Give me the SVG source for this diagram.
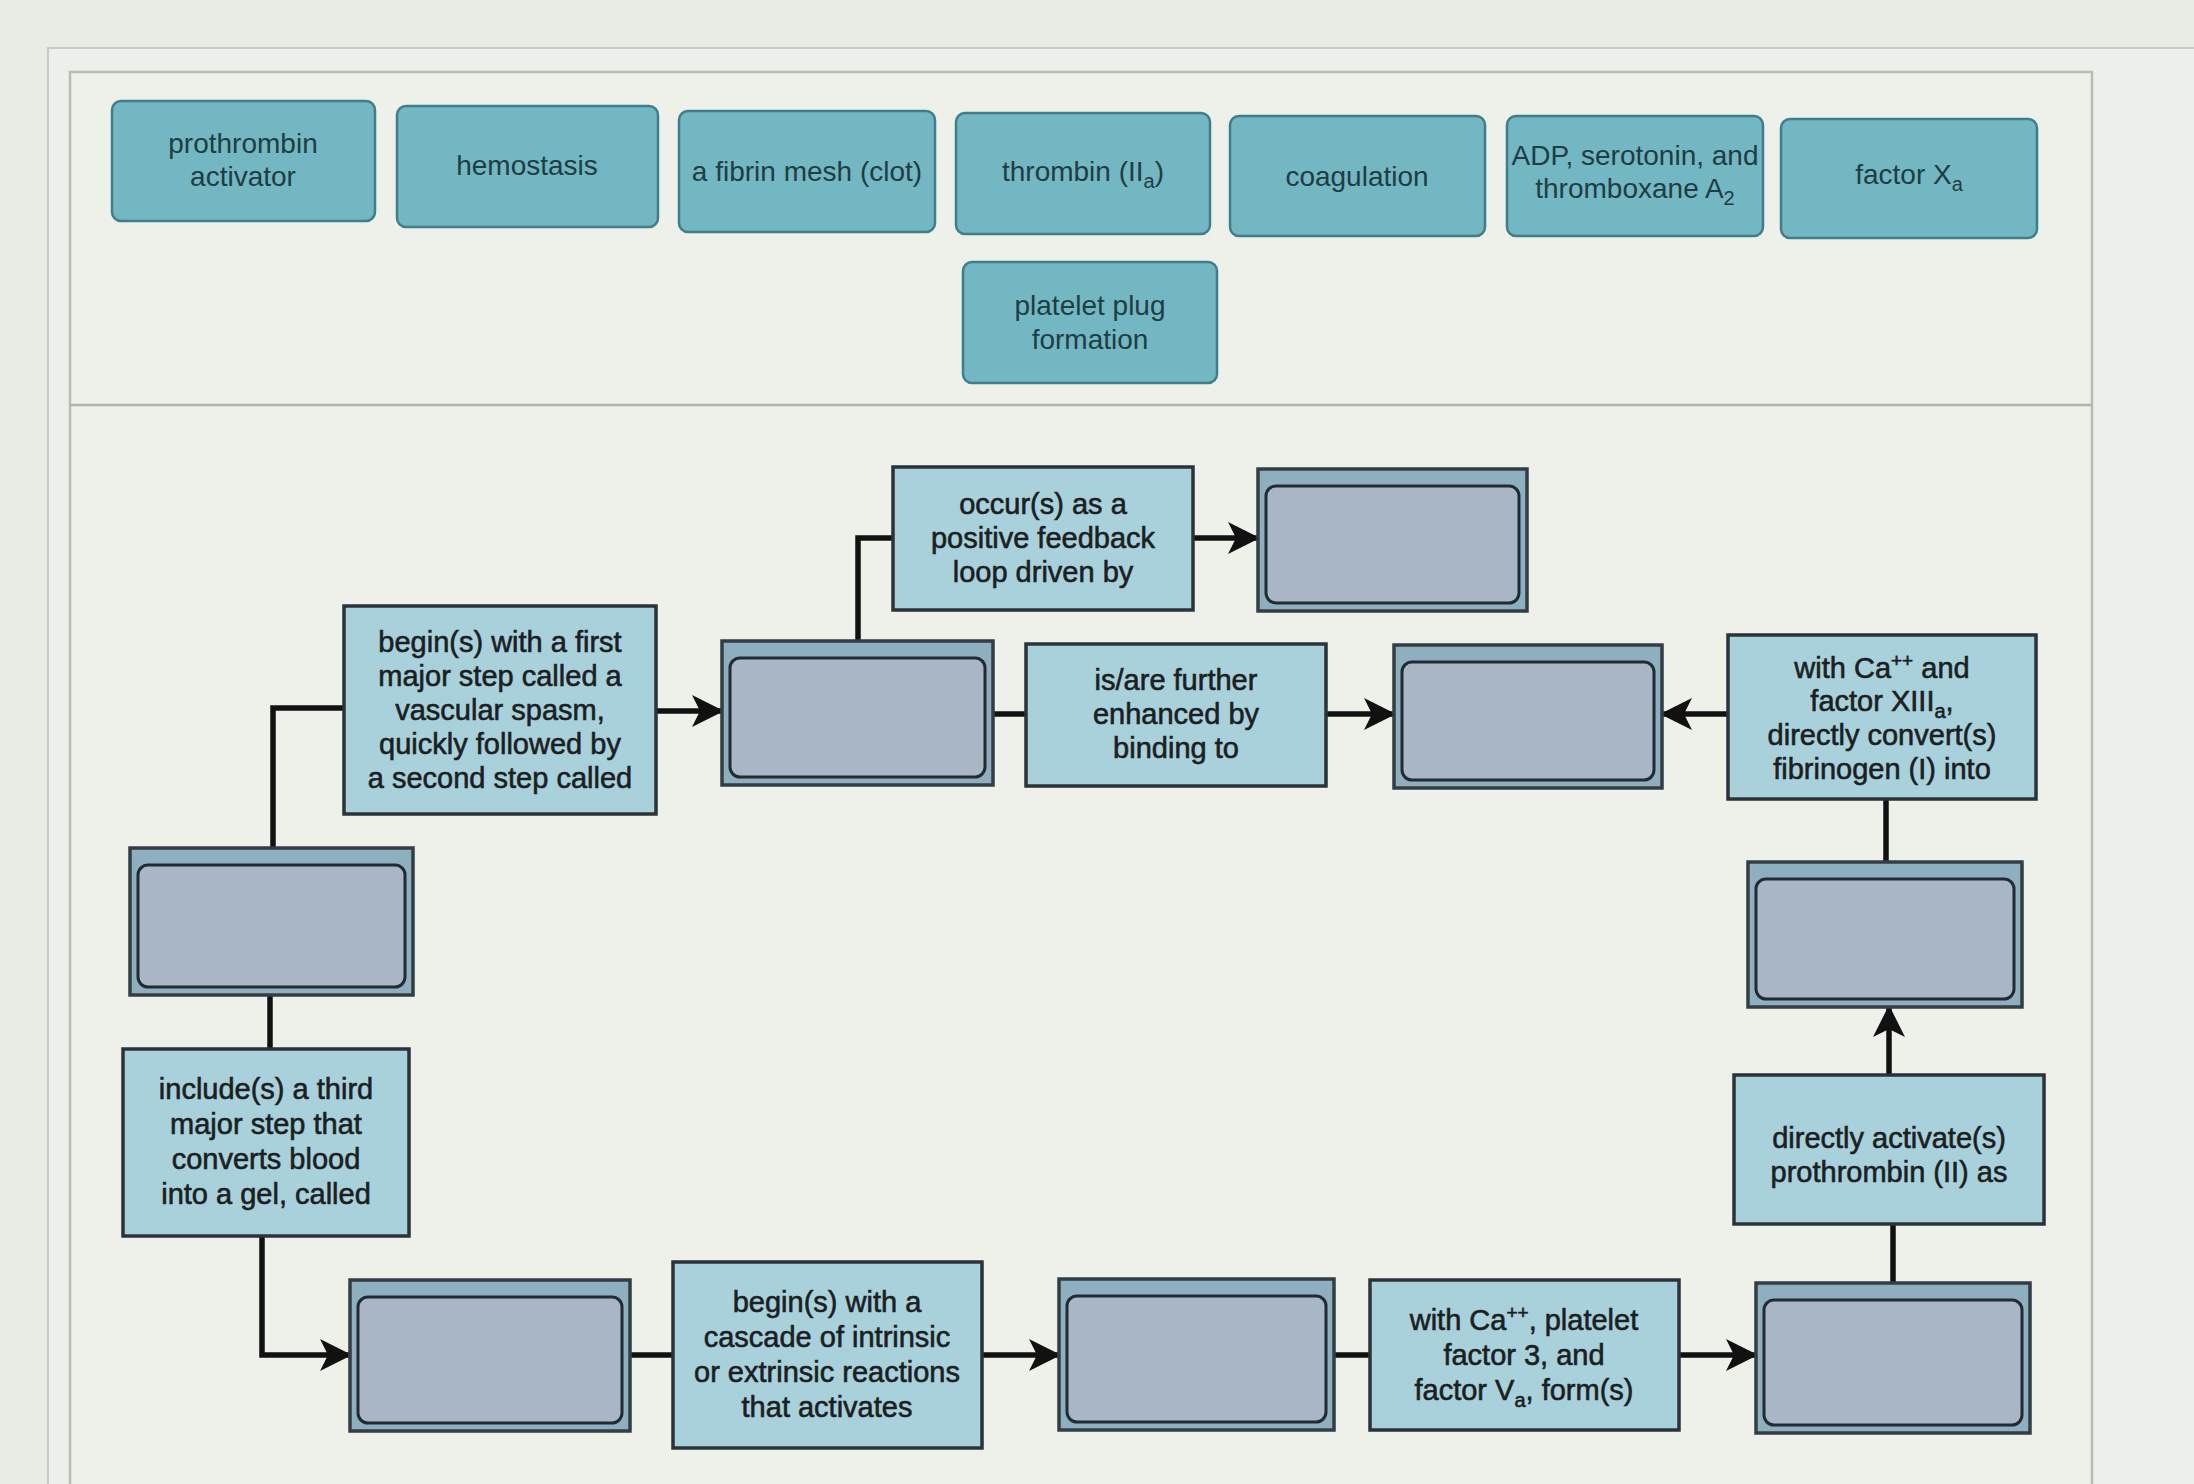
<svg xmlns="http://www.w3.org/2000/svg" width="2194" height="1484" viewBox="0 0 2194 1484">
<defs>
<style>
.tile{fill:#72b7c2;stroke:#3f7e8b;stroke-width:2.5}
.tt{font-family:"Liberation Sans",Arial,sans-serif;font-size:28px;fill:#1f3d44;text-anchor:middle}
.lab{fill:#a9d1dc;stroke:#2b3338;stroke-width:3.5}
.lt{font-family:"Liberation Sans",Arial,sans-serif;font-size:29px;fill:#1b1f22;stroke:#1b1f22;stroke-width:0.6;text-anchor:middle}
.eo{fill:#8eafc0;stroke:#333d44;stroke-width:3.5}
.ei{fill:#a8b6c6;stroke:#222b32;stroke-width:3}
.ln{fill:none;stroke:#111;stroke-width:5.5}
</style>
<marker id="ah" markerUnits="userSpaceOnUse" markerWidth="34" markerHeight="34" refX="30" refY="16" orient="auto">
<path d="M0,0 L32,16 L0,32 L8,16 Z" fill="#111"/>
</marker>
</defs>
<rect x="0" y="0" width="2194" height="1484" fill="#e9ebe5"/>
<rect x="48" y="48" width="2160" height="1460" fill="#edefea" stroke="#c9ccc6" stroke-width="2"/>
<rect x="70" y="72" width="2022" height="1430" fill="#eef0ea" stroke="#b8bcb6" stroke-width="2.5"/>
<line x1="70" y1="405" x2="2092" y2="405" stroke="#b0b4ae" stroke-width="2.5"/>

<g id="tile-prothrombin-activator"><rect class="tile" x="112" y="101" width="263" height="120" rx="9"/><text class="tt" x="243" y="153">prothrombin</text><text class="tt" x="243" y="186">activator</text></g>
<g id="tile-hemostasis"><rect class="tile" x="397" y="106" width="261" height="121" rx="9"/><text class="tt" x="527" y="175">hemostasis</text></g>
<g id="tile-fibrin-mesh"><rect class="tile" x="679" y="111" width="256" height="121" rx="9"/><text class="tt" x="807" y="181">a fibrin mesh (clot)</text></g>
<g id="tile-thrombin"><rect class="tile" x="956" y="113" width="254" height="121" rx="9"/><text class="tt" x="1083" y="181">thrombin (II<tspan font-size="20" dy="7">a</tspan><tspan dy="-7">)</tspan></text></g>
<g id="tile-coagulation"><rect class="tile" x="1230" y="116" width="255" height="120" rx="9"/><text class="tt" x="1357" y="186">coagulation</text></g>
<g id="tile-adp"><rect class="tile" x="1507" y="116" width="256" height="120" rx="9"/><text class="tt" x="1635" y="165">ADP, serotonin, and</text><text class="tt" x="1635" y="198">thromboxane A<tspan font-size="20" dy="7">2</tspan></text></g>
<g id="tile-factor-xa"><rect class="tile" x="1781" y="119" width="256" height="119" rx="9"/><text class="tt" x="1909" y="184">factor X<tspan font-size="20" dy="7">a</tspan></text></g>
<g id="tile-platelet-plug"><rect class="tile" x="963" y="262" width="254" height="121" rx="9"/><text class="tt" x="1090" y="315">platelet plug</text><text class="tt" x="1090" y="349">formation</text></g>

<g id="connectors">
<polyline class="ln" points="273,848 273,708 344,708"/>
<line class="ln" x1="656" y1="711" x2="722" y2="711" marker-end="url(#ah)"/>
<polyline class="ln" points="858,641 858,538 893,538"/>
<line class="ln" x1="1193" y1="538" x2="1258" y2="538" marker-end="url(#ah)"/>
<line class="ln" x1="993" y1="714" x2="1026" y2="714"/>
<line class="ln" x1="1326" y1="714" x2="1394" y2="714" marker-end="url(#ah)"/>
<line class="ln" x1="1728" y1="714" x2="1662" y2="714" marker-end="url(#ah)"/>
<line class="ln" x1="1886" y1="862" x2="1886" y2="799"/>
<line class="ln" x1="1889" y1="1075" x2="1889" y2="1007" marker-end="url(#ah)"/>
<line class="ln" x1="1893" y1="1283" x2="1893" y2="1224"/>
<line class="ln" x1="1679" y1="1355" x2="1756" y2="1355" marker-end="url(#ah)"/>
<line class="ln" x1="1334" y1="1355" x2="1370" y2="1355"/>
<line class="ln" x1="982" y1="1355" x2="1059" y2="1355" marker-end="url(#ah)"/>
<line class="ln" x1="630" y1="1355" x2="673" y2="1355"/>
<polyline class="ln" points="262,1236 262,1355 350,1355" marker-end="url(#ah)"/>
<line class="ln" x1="270" y1="995" x2="270" y2="1049"/>
</g>

<g id="node-occurs"><rect class="lab" x="893" y="467" width="300" height="143"/><text class="lt" x="1043" y="514">occur(s) as a</text><text class="lt" x="1043" y="548">positive feedback</text><text class="lt" x="1043" y="582">loop driven by</text></g>
<g id="blank-1"><rect class="eo" x="1258" y="469" width="269" height="142"/><rect class="ei" x="1266" y="486" width="253" height="117" rx="10"/></g>
<g id="node-begins-first"><rect class="lab" x="344" y="606" width="312" height="208"/><text class="lt" x="500" y="652">begin(s) with a first</text><text class="lt" x="500" y="686">major step called a</text><text class="lt" x="500" y="720">vascular spasm,</text><text class="lt" x="500" y="754">quickly followed by</text><text class="lt" x="500" y="788">a second step called</text></g>
<g id="blank-2"><rect class="eo" x="722" y="641" width="271" height="144"/><rect class="ei" x="730" y="658" width="255" height="119" rx="10"/></g>
<g id="node-enhanced"><rect class="lab" x="1026" y="644" width="300" height="142"/><text class="lt" x="1176" y="690">is/are further</text><text class="lt" x="1176" y="724">enhanced by</text><text class="lt" x="1176" y="758">binding to</text></g>
<g id="blank-3"><rect class="eo" x="1394" y="645" width="268" height="143"/><rect class="ei" x="1402" y="662" width="252" height="118" rx="10"/></g>
<g id="node-xiiia"><rect class="lab" x="1728" y="635" width="308" height="164"/><text class="lt" x="1882" y="678">with Ca<tspan font-size="19" dy="-11">++</tspan><tspan dy="11"> and</tspan></text><text class="lt" x="1882" y="711">factor XIII<tspan font-size="20" dy="7">a</tspan><tspan dy="-7">,</tspan></text><text class="lt" x="1882" y="745">directly convert(s)</text><text class="lt" x="1882" y="779">fibrinogen (I) into</text></g>
<g id="blank-4"><rect class="eo" x="130" y="848" width="283" height="147"/><rect class="ei" x="138" y="865" width="267" height="122" rx="10"/></g>
<g id="blank-5"><rect class="eo" x="1748" y="862" width="274" height="145"/><rect class="ei" x="1756" y="879" width="258" height="120" rx="10"/></g>
<g id="node-include"><rect class="lab" x="123" y="1049" width="286" height="187"/><text class="lt" x="266" y="1099">include(s) a third</text><text class="lt" x="266" y="1134">major step that</text><text class="lt" x="266" y="1169">converts blood</text><text class="lt" x="266" y="1204">into a gel, called</text></g>
<g id="node-activate"><rect class="lab" x="1734" y="1075" width="310" height="149"/><text class="lt" x="1889" y="1148">directly activate(s)</text><text class="lt" x="1889" y="1182">prothrombin (II) as</text></g>
<g id="blank-6"><rect class="eo" x="350" y="1280" width="280" height="151"/><rect class="ei" x="358" y="1297" width="264" height="126" rx="10"/></g>
<g id="node-cascade"><rect class="lab" x="673" y="1262" width="309" height="186"/><text class="lt" x="827" y="1312">begin(s) with a</text><text class="lt" x="827" y="1347">cascade of intrinsic</text><text class="lt" x="827" y="1382">or extrinsic reactions</text><text class="lt" x="827" y="1417">that activates</text></g>
<g id="blank-7"><rect class="eo" x="1059" y="1279" width="275" height="151"/><rect class="ei" x="1067" y="1296" width="259" height="126" rx="10"/></g>
<g id="node-platelet-factor"><rect class="lab" x="1370" y="1280" width="309" height="150"/><text class="lt" x="1524" y="1330">with Ca<tspan font-size="19" dy="-11">++</tspan><tspan dy="11">, platelet</tspan></text><text class="lt" x="1524" y="1365">factor 3, and</text><text class="lt" x="1524" y="1400">factor V<tspan font-size="20" dy="7">a</tspan><tspan dy="-7">, form(s)</tspan></text></g>
<g id="blank-8"><rect class="eo" x="1756" y="1283" width="274" height="150"/><rect class="ei" x="1764" y="1300" width="258" height="125" rx="10"/></g>
</svg>
